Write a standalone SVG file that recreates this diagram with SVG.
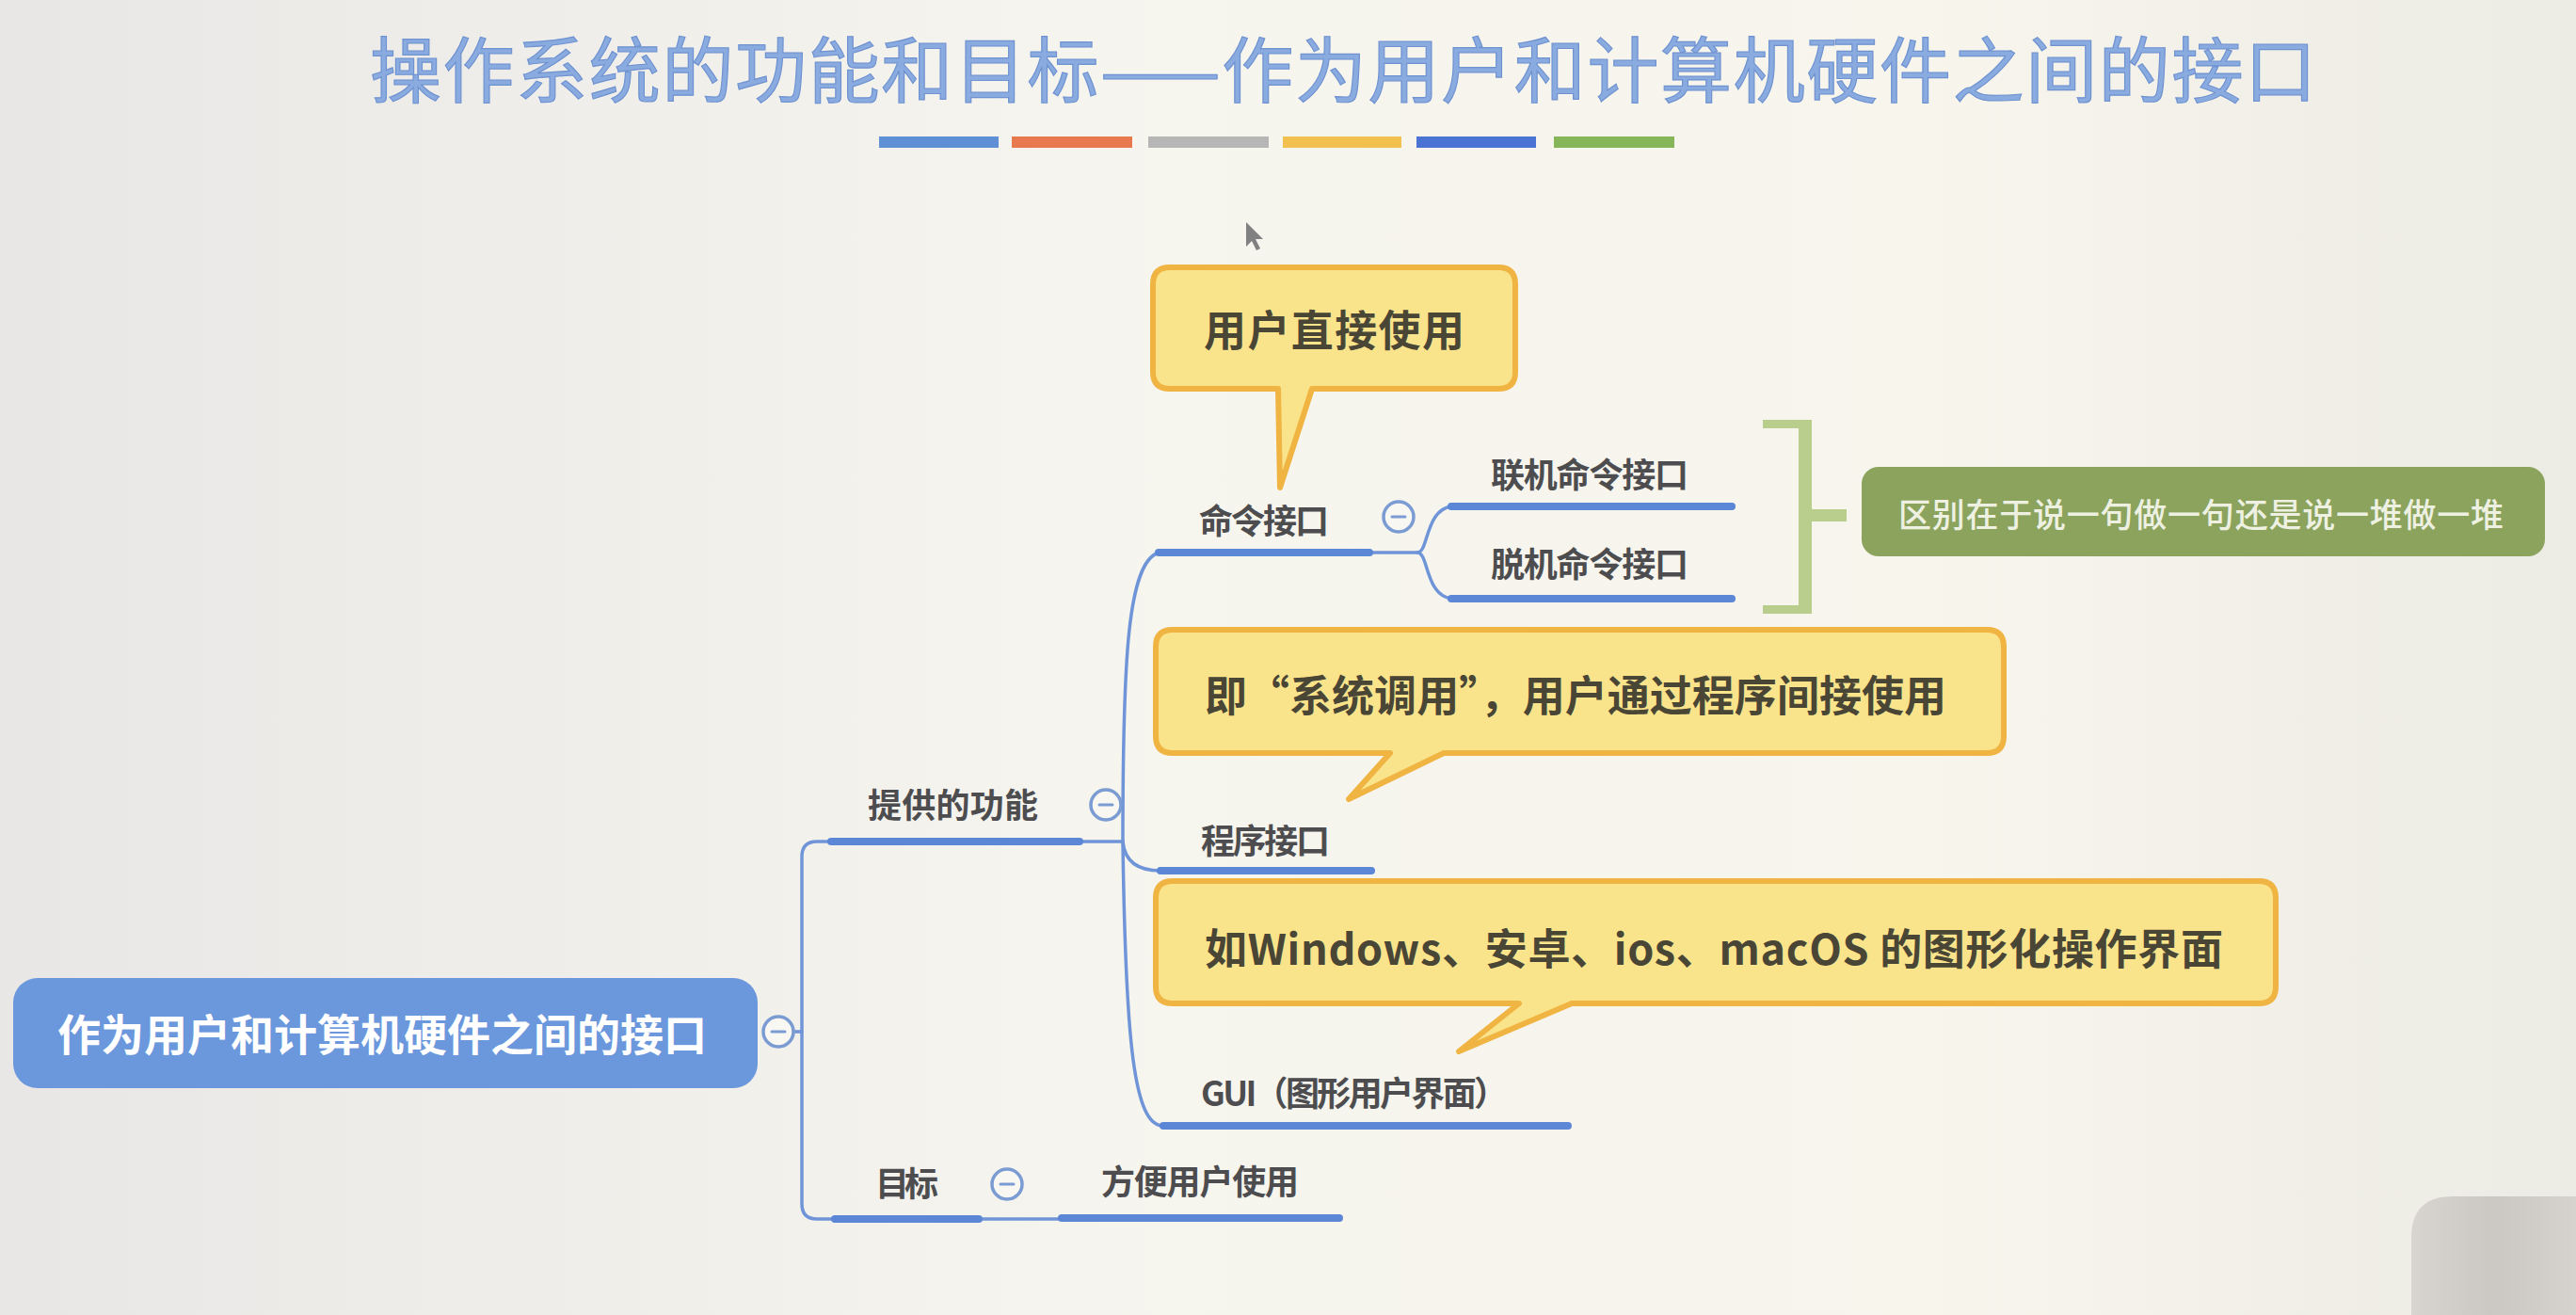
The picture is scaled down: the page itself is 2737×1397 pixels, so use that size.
<svg xmlns="http://www.w3.org/2000/svg" width="2737" height="1397" viewBox="0 0 2737 1397">
<style>
  text { font-family: "Noto Sans CJK SC", "Noto Sans", sans-serif; dominant-baseline: central; }
  .title { font-size: 76px; font-weight: 400; fill: #8aabe0; stroke: #6f92d0; stroke-width: 1.2; }
  .lbl { font-size: 36px; font-weight: 700; fill: #4d4d50; }
  .call { font-size: 45px; font-weight: 700; fill: #4a4636; }
  .root-t { font-size: 46px; font-weight: 700; fill: #ffffff; }
  .note-t { font-size: 35px; font-weight: 500; fill: #eef1e2; }
  .ul { stroke: #5b87d6; stroke-width: 8; stroke-linecap: round; fill: none; }
  .thin { stroke: #6f95d8; stroke-width: 3.5; fill: none; stroke-linecap: round; }
  .bubble { fill: #fae48b; stroke: #f0b443; stroke-width: 6; stroke-linejoin: round; }
  .tog { fill: #f8f7f2; stroke: #7b9bd3; stroke-width: 3.5; }
  .tog-m { stroke: #7b9bd3; stroke-width: 3; stroke-linecap: round; }
</style>
<defs>
  <linearGradient id="bg" x1="0" y1="0" x2="1" y2="0">
    <stop offset="0" stop-color="#e9e7e6"/>
    <stop offset="0.45" stop-color="#f6f5ee"/>
    <stop offset="0.75" stop-color="#f7f5ec"/>
    <stop offset="1" stop-color="#ecebe4"/>
  </linearGradient>
  <linearGradient id="corner" x1="0" y1="0" x2="1" y2="0">
    <stop offset="0" stop-color="#d8d4cf"/>
    <stop offset="0.5" stop-color="#cbc7c2"/>
    <stop offset="1" stop-color="#d6d3cf"/>
  </linearGradient>
</defs>

<rect x="0" y="0" width="2737" height="1397" fill="url(#bg)"/>
<path d="M2606,1271 H2737 V1397 H2562 V1315 Q2562,1271 2606,1271 Z" fill="url(#corner)"/>

<!-- title -->
<g id="title">
  <text class="title" x="393" y="70" textLength="2068" lengthAdjust="spacing">操作系统的功能和目标——作为用户和计算机硬件之间的接口</text>
  <rect x="934" y="145" width="127" height="12" fill="#5f90d6"/>
  <rect x="1075" y="145" width="128" height="12" fill="#e8794f"/>
  <rect x="1220" y="145" width="128" height="12" fill="#b6b6b6"/>
  <rect x="1363" y="145" width="126" height="12" fill="#f2c04f"/>
  <rect x="1505" y="145" width="127" height="12" fill="#4b73d3"/>
  <rect x="1651" y="145" width="128" height="12" fill="#86b55a"/>
</g>

<!-- cursor -->
<path d="M1324,236 L1324,262 L1330,256 L1335,266 L1339,264 L1334,254 L1342,254 Z" fill="#5a5a5e" opacity="0.75"/>

<!-- connectors -->
<g id="connectors">
  <path class="thin" d="M843,1096 H852"/>
  <path class="thin" d="M883,894 H868 Q852,894 852,910 V1279 Q852,1295 868,1295 H887"/>
  <path class="thin" d="M1147,894 H1193"/>
  <path class="thin" d="M1193,894 C1193,700 1198,598 1231,587"/>
  <path class="thin" d="M1193,894 C1195,915 1208,925 1233,925"/>
  <path class="thin" d="M1193,894 C1196,1110 1205,1196 1236,1196"/>
  <path class="thin" d="M1455,587 H1506"/>
  <path class="thin" d="M1506,587 C1518,587 1514,542 1542,538"/>
  <path class="thin" d="M1506,587 C1518,587 1514,632 1542,636"/>
  <path class="thin" d="M1040,1295 H1128"/>
</g>

<!-- root -->
<g id="root">
  <rect x="14" y="1039" width="791" height="117" rx="26" fill="#6b97dc"/>
  <text class="root-t" x="61" y="1096" textLength="690" lengthAdjust="spacing">作为用户和计算机硬件之间的接口</text>
  <circle class="tog" cx="827" cy="1096" r="16"/>
  <line class="tog-m" x1="820" y1="1096" x2="834" y2="1096"/>
</g>

<g id="n-functions">
  <text class="lbl" x="922" y="853" textLength="181" lengthAdjust="spacing">提供的功能</text>
  <line class="ul" x1="883" y1="894" x2="1147" y2="894"/>
  <circle class="tog" cx="1175" cy="855" r="16"/>
  <line class="tog-m" x1="1168" y1="855" x2="1182" y2="855"/>
</g>

<g id="n-goal">
  <text class="lbl" x="930" y="1255" textLength="67" lengthAdjust="spacing">目标</text>
  <line class="ul" x1="887" y1="1295" x2="1040" y2="1295"/>
  <circle class="tog" cx="1070" cy="1258" r="16"/>
  <line class="tog-m" x1="1063" y1="1258" x2="1077" y2="1258"/>
</g>

<g id="n-convenient">
  <text class="lbl" x="1170" y="1253" textLength="210" lengthAdjust="spacing">方便用户使用</text>
  <line class="ul" x1="1128" y1="1294" x2="1423" y2="1294"/>
</g>

<g id="n-command">
  <text class="lbl" x="1274" y="551" textLength="138" lengthAdjust="spacing">命令接口</text>
  <line class="ul" x1="1231" y1="587" x2="1455" y2="587"/>
  <circle class="tog" cx="1486" cy="549" r="16"/>
  <line class="tog-m" x1="1479" y1="549" x2="1493" y2="549"/>
</g>

<g id="n-online">
  <text class="lbl" x="1584" y="502" textLength="210" lengthAdjust="spacing">联机命令接口</text>
  <line class="ul" x1="1542" y1="538" x2="1840" y2="538"/>
</g>

<g id="n-offline">
  <text class="lbl" x="1584" y="597" textLength="210" lengthAdjust="spacing">脱机命令接口</text>
  <line class="ul" x1="1542" y1="636" x2="1840" y2="636"/>
</g>

<g id="n-program">
  <text class="lbl" x="1276" y="891" textLength="137" lengthAdjust="spacing">程序接口</text>
  <line class="ul" x1="1233" y1="925" x2="1457" y2="925"/>
</g>

<g id="n-gui">
  <text class="lbl" x="1276" y="1159" textLength="326" lengthAdjust="spacing">GUI（图形用户界面）</text>
  <line class="ul" x1="1236" y1="1196" x2="1666" y2="1196"/>
</g>

<!-- callouts -->
<g id="c-direct">
  <path class="bubble" d="M1243,284 H1592 Q1610,284 1610,302 V395 Q1610,413 1592,413 H1394 L1360,518 L1358,413 H1243 Q1225,413 1225,395 V302 Q1225,284 1243,284 Z"/>
  <text class="call" x="1279" y="348" textLength="277" lengthAdjust="spacing">用户直接使用</text>
</g>

<g id="c-syscall">
  <path class="bubble" d="M1246,669 H2111 Q2129,669 2129,687 V782 Q2129,800 2111,800 H1534 L1433,849 L1477,800 H1246 Q1228,800 1228,782 V687 Q1228,669 1246,669 Z"/>
  <text class="call" x="1280" y="736" textLength="788" lengthAdjust="spacing">即“系统调用”，用户通过程序间接使用</text>
</g>

<g id="c-gui">
  <path class="bubble" d="M1246,936 H2400 Q2418,936 2418,954 V1048 Q2418,1066 2400,1066 H1670 L1550,1117 L1614,1066 H1246 Q1228,1066 1228,1048 V954 Q1228,936 1246,936 Z"/>
  <text class="call" x="1280" y="1005" textLength="1082" lengthAdjust="spacing">如Windows、安卓、ios、macOS 的图形化操作界面</text>
</g>

<!-- bracket and note -->
<g id="bracket">
  <path d="M1873,446 H1925 V652 H1873 V643 H1911 V455 H1873 Z" fill="#b9ce8d"/>
  <rect x="1925" y="541" width="37" height="13" fill="#b9ce8d"/>
</g>

<g id="n-note">
  <rect x="1978" y="496" width="726" height="95" rx="18" fill="#8ba35d"/>
  <text class="note-t" x="2017" y="544" textLength="643" lengthAdjust="spacing">区别在于说一句做一句还是说一堆做一堆</text>
</g>
</svg>
